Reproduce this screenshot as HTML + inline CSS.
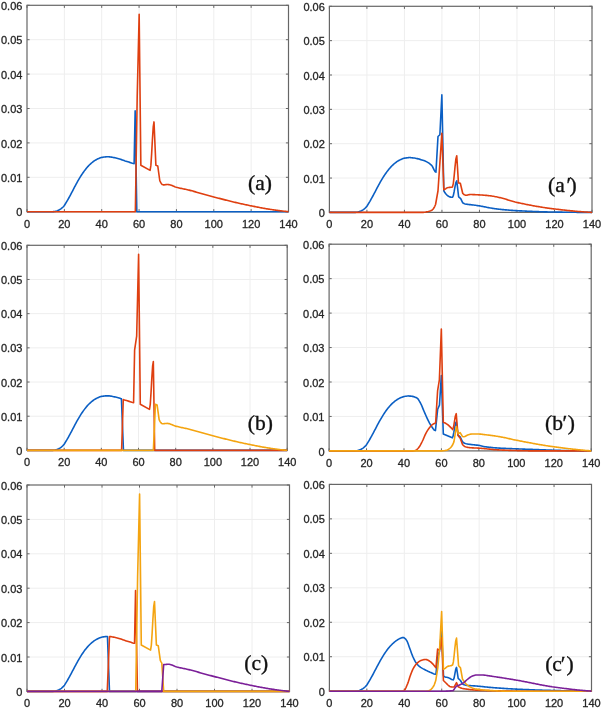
<!DOCTYPE html>
<html lang="en"><head><meta charset="utf-8"><title>Figure</title>
<style>
html,body{margin:0;padding:0;background:#fff;}
body{width:602px;height:709px;overflow:hidden;}
svg{display:block;}
svg text{font-family:"Liberation Sans",Arial,sans-serif;font-size:11px;fill:#262626;stroke:#262626;stroke-width:0.3px;}
svg text.lab{font-family:"Liberation Serif","Times New Roman",serif;font-size:21.5px;fill:#111;stroke:#111;stroke-width:0.35px;}
</style></head><body>
<svg width="602" height="709" viewBox="0 0 602 709">
<rect width="602" height="709" fill="#fff"/>
<g><path d="M64.36 5.30V211.70M101.71 5.30V211.70M139.07 5.30V211.70M176.43 5.30V211.70M213.79 5.30V211.70M251.14 5.30V211.70M27.00 177.30H288.50M27.00 142.90H288.50M27.00 108.50H288.50M27.00 74.10H288.50M27.00 39.70H288.50" stroke="#eeeeee" stroke-width="1" fill="none"/>
<path d="M27.00 211.70v-2.6M27.00 5.30v2.6M64.36 211.70v-2.6M64.36 5.30v2.6M101.71 211.70v-2.6M101.71 5.30v2.6M139.07 211.70v-2.6M139.07 5.30v2.6M176.43 211.70v-2.6M176.43 5.30v2.6M213.79 211.70v-2.6M213.79 5.30v2.6M251.14 211.70v-2.6M251.14 5.30v2.6M288.50 211.70v-2.6M288.50 5.30v2.6M27.00 211.70h2.6M288.50 211.70h-2.6M27.00 177.30h2.6M288.50 177.30h-2.6M27.00 142.90h2.6M288.50 142.90h-2.6M27.00 108.50h2.6M288.50 108.50h-2.6M27.00 74.10h2.6M288.50 74.10h-2.6M27.00 39.70h2.6M288.50 39.70h-2.6M27.00 5.30h2.6M288.50 5.30h-2.6" stroke="#666666" stroke-width="1" fill="none"/>
<rect x="27.00" y="5.30" width="261.50" height="206.40" fill="none" stroke="#666666" stroke-width="1.2"/>
<polyline points="27.00,211.70 27.93,211.70 28.87,211.70 29.80,211.70 30.74,211.70 31.67,211.70 32.60,211.70 33.54,211.70 34.47,211.70 35.41,211.70 36.34,211.70 37.27,211.70 38.21,211.70 39.14,211.70 40.08,211.70 41.01,211.70 41.94,211.70 42.88,211.70 43.81,211.70 44.74,211.70 45.68,211.70 46.61,211.70 47.55,211.70 48.48,211.70 49.41,211.70 50.35,211.70 51.28,211.70 52.22,211.70 52.96,211.67 53.71,211.59 54.46,211.48 55.20,211.36 55.95,211.18 56.70,210.94 57.45,210.64 58.19,210.32 58.94,209.97 59.69,209.57 60.43,209.12 61.18,208.60 61.98,207.98 62.77,207.26 63.56,206.44 64.36,205.51 67.16,200.86 67.91,199.57 68.65,198.24 69.40,196.90 70.15,195.53 70.89,194.14 71.64,192.72 72.39,191.28 73.14,189.86 73.88,188.43 74.63,186.99 75.38,185.57 76.12,184.18 76.87,182.82 77.62,181.47 78.37,180.16 79.11,178.88 79.86,177.64 80.61,176.42 81.35,175.24 82.10,174.10 82.85,173.00 83.60,171.93 84.34,170.89 85.09,169.90 85.84,168.95 86.58,168.03 87.33,167.16 88.08,166.33 88.83,165.54 89.57,164.78 90.32,164.07 91.07,163.40 91.85,162.74 92.64,162.09 93.42,161.49 94.21,160.92 94.99,160.41 95.77,159.94 96.56,159.50 97.34,159.09 98.13,158.71 98.91,158.38 99.71,158.07 100.50,157.77 101.29,157.52 102.09,157.35 103.02,157.20 103.96,157.06 104.89,156.94 105.82,156.85 106.76,156.79 107.69,156.76 108.61,156.79 109.52,156.85 110.44,156.96 111.35,157.09 112.27,157.26 113.18,157.44 114.10,157.63 115.01,157.84 115.93,158.04 116.84,158.24 117.76,158.46 118.67,158.72 119.59,159.00 120.50,159.31 121.42,159.63 122.34,159.96 123.25,160.29 124.17,160.62 125.08,160.94 126.00,161.24 126.93,161.53 127.86,161.81 128.80,162.09 129.73,162.37 130.67,162.65 131.53,162.94 132.39,163.25 133.26,163.51 134.12,163.61 135.15,110.91 136.83,211.70 288.50,211.70" fill="none" stroke="#0B5FC4" stroke-width="1.6" stroke-linejoin="round"/>
<polyline points="27.00,211.70 135.34,211.70 137.20,96.80 139.16,14.24 140.85,165.26 150.09,170.42 150.88,165.38 151.66,153.35 152.45,138.99 153.23,126.96 154.01,121.92 155.88,165.26 157.75,165.95 159.80,180.74 160.65,182.44 161.49,183.74 162.33,184.57 163.17,184.87 164.10,184.83 165.03,184.75 165.97,184.65 166.90,184.56 167.84,184.52 168.70,184.58 169.55,184.74 170.41,184.97 171.27,185.27 172.13,185.61 172.99,185.97 173.85,186.34 174.71,186.69 175.57,187.01 176.43,187.28 177.34,187.51 178.25,187.74 179.16,187.96 180.06,188.17 180.97,188.37 181.88,188.56 182.79,188.76 183.70,188.95 184.61,189.14 185.52,189.33 186.43,189.53 187.34,189.73 188.25,189.93 189.15,190.15 190.06,190.37 190.98,190.61 191.90,190.85 192.82,191.10 193.74,191.36 194.66,191.62 195.57,191.89 196.49,192.15 197.41,192.42 198.33,192.69 199.25,192.95 200.17,193.21 201.08,193.47 201.99,193.72 202.90,193.97 203.81,194.22 204.71,194.46 205.62,194.71 206.53,194.96 207.44,195.21 208.34,195.45 209.25,195.70 210.16,195.94 211.06,196.18 211.97,196.43 212.88,196.67 213.79,196.91 214.72,197.16 215.65,197.40 216.59,197.65 217.52,197.90 218.46,198.15 219.39,198.39 220.32,198.64 221.26,198.89 222.19,199.13 223.12,199.38 224.06,199.62 224.99,199.86 225.93,200.10 226.86,200.34 227.79,200.58 228.73,200.81 229.66,201.04 230.60,201.27 231.53,201.50 232.46,201.72 233.40,201.95 234.33,202.17 235.27,202.38 236.20,202.60 237.13,202.82 238.07,203.03 239.00,203.25 239.94,203.46 240.87,203.67 241.80,203.87 242.74,204.08 243.67,204.29 244.61,204.49 245.54,204.69 246.47,204.89 247.41,205.08 248.34,205.28 249.28,205.47 250.21,205.66 251.14,205.85 252.08,206.04 253.01,206.23 253.94,206.41 254.88,206.60 255.81,206.78 256.75,206.97 257.68,207.15 258.61,207.33 259.55,207.51 260.48,207.69 261.42,207.86 262.35,208.03 263.28,208.20 264.22,208.37 265.15,208.53 266.09,208.69 267.02,208.85 267.95,209.00 268.89,209.15 269.82,209.29 270.76,209.43 271.69,209.57 272.62,209.71 273.56,209.84 274.49,209.98 275.43,210.11 276.36,210.24 277.29,210.37 278.23,210.49 279.16,210.61 280.09,210.73 281.03,210.85 281.96,210.97 282.90,211.08 283.83,211.19 284.76,211.30 285.70,211.40 286.63,211.50 287.57,211.60 288.50,211.70" fill="none" stroke="#DF3F10" stroke-width="1.6" stroke-linejoin="round"/>
<text x="27.00" y="227.50" text-anchor="middle">0</text>
<text x="64.36" y="227.50" text-anchor="middle">20</text>
<text x="101.71" y="227.50" text-anchor="middle">40</text>
<text x="139.07" y="227.50" text-anchor="middle">60</text>
<text x="176.43" y="227.50" text-anchor="middle">80</text>
<text x="213.79" y="227.50" text-anchor="middle">100</text>
<text x="251.14" y="227.50" text-anchor="middle">120</text>
<text x="288.50" y="227.50" text-anchor="middle">140</text>
<text x="22.40" y="216.30" text-anchor="end">0</text>
<text x="22.40" y="181.90" text-anchor="end">0.01</text>
<text x="22.40" y="147.50" text-anchor="end">0.02</text>
<text x="22.40" y="113.10" text-anchor="end">0.03</text>
<text x="22.40" y="78.70" text-anchor="end">0.04</text>
<text x="22.40" y="44.30" text-anchor="end">0.05</text>
<text x="22.40" y="9.90" text-anchor="end">0.06</text>
<text class="lab" x="260.0" y="190.4" text-anchor="middle">(a)</text></g>
<g><path d="M366.91 6.30V212.40M404.43 6.30V212.40M441.94 6.30V212.40M479.46 6.30V212.40M516.97 6.30V212.40M554.49 6.30V212.40M329.40 178.05H592.00M329.40 143.70H592.00M329.40 109.35H592.00M329.40 75.00H592.00M329.40 40.65H592.00" stroke="#eeeeee" stroke-width="1" fill="none"/>
<path d="M329.40 212.40v-2.6M329.40 6.30v2.6M366.91 212.40v-2.6M366.91 6.30v2.6M404.43 212.40v-2.6M404.43 6.30v2.6M441.94 212.40v-2.6M441.94 6.30v2.6M479.46 212.40v-2.6M479.46 6.30v2.6M516.97 212.40v-2.6M516.97 6.30v2.6M554.49 212.40v-2.6M554.49 6.30v2.6M592.00 212.40v-2.6M592.00 6.30v2.6M329.40 212.40h2.6M592.00 212.40h-2.6M329.40 178.05h2.6M592.00 178.05h-2.6M329.40 143.70h2.6M592.00 143.70h-2.6M329.40 109.35h2.6M592.00 109.35h-2.6M329.40 75.00h2.6M592.00 75.00h-2.6M329.40 40.65h2.6M592.00 40.65h-2.6M329.40 6.30h2.6M592.00 6.30h-2.6" stroke="#666666" stroke-width="1" fill="none"/>
<rect x="329.40" y="6.30" width="262.60" height="206.10" fill="none" stroke="#666666" stroke-width="1.2"/>
<polyline points="329.40,212.40 330.34,212.40 331.28,212.40 332.21,212.40 333.15,212.40 334.09,212.40 335.03,212.40 335.96,212.40 336.90,212.40 337.84,212.40 338.78,212.40 339.72,212.40 340.65,212.40 341.59,212.40 342.53,212.40 343.47,212.40 344.41,212.40 345.34,212.40 346.28,212.40 347.22,212.40 348.16,212.40 349.09,212.40 350.03,212.40 350.97,212.40 351.91,212.40 352.85,212.40 353.78,212.40 354.72,212.40 355.47,212.37 356.22,212.29 356.97,212.18 357.72,212.06 358.47,211.88 359.22,211.64 359.97,211.34 360.72,211.03 361.47,210.68 362.22,210.28 362.98,209.82 363.73,209.31 364.52,208.69 365.32,207.97 366.12,207.14 366.91,206.22 369.73,201.58 370.48,200.28 371.23,198.96 371.98,197.62 372.73,196.26 373.48,194.86 374.23,193.44 374.98,192.01 375.73,190.59 376.48,189.16 377.23,187.73 377.98,186.31 378.73,184.92 379.48,183.56 380.23,182.22 380.98,180.91 381.73,179.63 382.48,178.39 383.23,177.17 383.98,175.99 384.73,174.86 385.48,173.75 386.23,172.68 386.98,171.65 387.73,170.66 388.49,169.71 389.24,168.80 389.99,167.92 390.74,167.09 391.49,166.30 392.24,165.55 392.99,164.84 393.74,164.17 394.52,163.51 395.31,162.87 396.10,162.26 396.89,161.70 397.68,161.18 398.46,160.71 399.25,160.27 400.04,159.86 400.83,159.49 401.62,159.16 402.41,158.84 403.21,158.55 404.01,158.30 404.80,158.13 405.74,157.98 406.68,157.84 407.62,157.72 408.56,157.63 409.49,157.56 410.43,157.54 410.81,157.78 411.73,157.80 412.65,157.86 413.58,157.95 414.50,158.08 415.43,158.24 416.35,158.42 417.28,158.63 418.20,158.86 419.13,159.10 420.05,159.37 420.98,159.65 421.90,159.93 422.82,160.23 423.75,160.53 424.62,160.84 425.50,161.21 426.37,161.62 427.25,162.09 428.13,162.62 429.00,163.21 429.88,163.86 430.75,164.57 431.63,165.34 432.49,166.56 433.35,168.33 434.21,170.17 435.08,171.62 435.94,172.21 438.00,136.49 439.88,134.77 441.85,94.92 443.82,190.76 444.68,192.25 445.54,193.50 446.41,194.54 447.27,195.38 448.13,196.04 449.00,196.54 449.86,196.89 450.72,197.12 451.58,197.25 452.45,197.29 453.31,195.57 454.17,191.48 455.04,186.60 455.90,182.51 456.76,180.80 458.64,196.94 460.70,198.66 462.76,202.78 463.61,203.31 464.45,203.69 465.30,203.96 466.14,204.16 466.97,204.30 467.80,204.41 468.63,204.51 469.46,204.59 470.29,204.66 471.12,204.75 471.95,204.84 472.89,204.96 473.83,205.08 474.77,205.20 475.71,205.33 476.64,205.46 477.58,205.59 478.52,205.73 479.46,205.87 480.35,206.02 481.24,206.18 482.13,206.35 483.02,206.53 483.91,206.71 484.80,206.90 485.69,207.09 486.58,207.27 487.48,207.45 488.37,207.62 489.26,207.78 490.15,207.93 491.04,208.08 491.92,208.22 492.81,208.36 493.70,208.49 494.58,208.63 495.47,208.75 496.36,208.88 497.24,209.00 498.13,209.11 499.02,209.21 499.90,209.31 500.80,209.40 501.70,209.49 502.60,209.58 503.50,209.67 504.39,209.75 505.29,209.84 506.19,209.92 507.09,209.99 507.99,210.07 508.89,210.14 509.78,210.21 510.68,210.28 511.58,210.35 512.48,210.41 513.38,210.47 514.28,210.53 515.17,210.58 516.07,210.63 516.97,210.68 517.91,210.73 518.85,210.78 519.78,210.83 520.72,210.88 521.66,210.92 522.60,210.97 523.54,211.02 524.47,211.06 525.41,211.11 526.35,211.15 527.29,211.19 528.23,211.24 529.16,211.28 530.10,211.32 531.04,211.36 531.98,211.40 532.91,211.44 533.85,211.48 534.79,211.51 535.73,211.55 536.67,211.58 537.60,211.62 538.54,211.65 539.48,211.68 540.42,211.72 541.36,211.75 542.29,211.78 543.23,211.80 544.17,211.83 545.11,211.86 546.04,211.88 546.98,211.91 547.92,211.93 548.86,211.95 549.80,211.97 550.73,211.99 551.67,212.01 552.61,212.03 553.55,212.04 554.49,212.06 555.42,212.07 556.36,212.08 557.30,212.10 558.24,212.11 559.17,212.12 560.11,212.14 561.05,212.15 561.99,212.16 562.93,212.18 563.86,212.19 564.80,212.20 565.74,212.21 566.68,212.22 567.62,212.23 568.55,212.25 569.49,212.26 570.43,212.27 571.37,212.28 572.31,212.29 573.24,212.30 574.18,212.31 575.12,212.32 576.06,212.32 576.99,212.33 577.93,212.34 578.87,212.35 579.81,212.35 580.75,212.36 581.68,212.37 582.62,212.37 583.56,212.38 584.50,212.38 585.43,212.39 586.37,212.39 587.31,212.39 588.25,212.40 589.19,212.40 590.12,212.40 591.06,212.40 592.00,212.40" fill="none" stroke="#0B5FC4" stroke-width="1.6" stroke-linejoin="round"/>
<polyline points="329.40,212.40 423.19,212.40 425.62,212.06 426.48,211.90 427.34,211.73 428.20,211.55 429.05,211.32 429.91,211.06 430.77,210.73 431.63,210.34 432.41,209.79 433.20,208.93 433.99,207.76 434.78,206.28 435.57,204.50 438.00,190.76 439.88,162.94 441.85,133.40 443.82,189.73 444.71,189.45 445.60,188.80 446.49,188.10 447.38,187.67 448.23,187.52 449.07,187.42 449.91,187.35 450.76,187.28 451.60,187.17 452.45,186.98 453.31,183.58 454.17,175.81 455.04,166.61 455.90,158.94 456.76,155.72 458.45,182.86 460.32,183.20 462.76,193.51 463.61,194.23 464.45,194.77 465.30,195.11 466.14,195.22 466.93,195.15 467.72,194.98 468.50,194.78 469.29,194.61 470.08,194.54 471.02,194.54 471.95,194.56 472.89,194.58 473.83,194.61 474.77,194.65 475.71,194.69 476.64,194.74 477.58,194.78 478.52,194.83 479.46,194.88 480.34,194.93 481.22,194.98 482.10,195.04 482.98,195.11 483.86,195.18 484.74,195.25 485.62,195.33 486.50,195.42 487.38,195.51 488.26,195.60 489.14,195.70 490.02,195.80 490.90,195.91 491.80,196.03 492.70,196.17 493.60,196.32 494.50,196.48 495.40,196.66 496.30,196.84 497.20,197.03 498.10,197.23 499.00,197.43 499.90,197.63 500.80,197.84 501.70,198.06 502.60,198.30 503.50,198.55 504.39,198.80 505.29,199.07 506.19,199.34 507.09,199.62 507.99,199.90 508.89,200.18 509.78,200.46 510.68,200.73 511.58,201.00 512.48,201.27 513.38,201.53 514.28,201.77 515.17,202.01 516.07,202.23 516.97,202.44 517.91,202.65 518.85,202.85 519.78,203.05 520.72,203.25 521.66,203.45 522.60,203.65 523.54,203.84 524.47,204.04 525.41,204.23 526.35,204.42 527.29,204.60 528.23,204.79 529.16,204.97 530.10,205.15 531.04,205.33 531.98,205.50 532.91,205.67 533.85,205.84 534.79,206.01 535.73,206.18 536.67,206.34 537.60,206.50 538.54,206.66 539.48,206.82 540.42,206.97 541.36,207.12 542.29,207.27 543.23,207.42 544.17,207.56 545.11,207.70 546.04,207.84 546.98,207.98 547.92,208.11 548.86,208.24 549.80,208.37 550.73,208.49 551.67,208.61 552.61,208.73 553.55,208.85 554.49,208.97 555.42,209.08 556.36,209.19 557.30,209.30 558.24,209.41 559.17,209.52 560.11,209.63 561.05,209.73 561.99,209.84 562.93,209.94 563.86,210.05 564.80,210.15 565.74,210.25 566.68,210.35 567.62,210.45 568.55,210.55 569.49,210.64 570.43,210.74 571.37,210.83 572.31,210.92 573.24,211.01 574.18,211.10 575.12,211.18 576.06,211.27 576.99,211.35 577.93,211.43 578.87,211.51 579.81,211.59 580.75,211.66 581.68,211.74 582.62,211.81 583.56,211.88 584.50,211.94 585.43,212.01 586.37,212.07 587.31,212.13 588.25,212.19 589.19,212.25 590.12,212.30 591.06,212.35 592.00,212.40" fill="none" stroke="#DF3F10" stroke-width="1.6" stroke-linejoin="round"/>
<text x="329.40" y="228.20" text-anchor="middle">0</text>
<text x="366.91" y="228.20" text-anchor="middle">20</text>
<text x="404.43" y="228.20" text-anchor="middle">40</text>
<text x="441.94" y="228.20" text-anchor="middle">60</text>
<text x="479.46" y="228.20" text-anchor="middle">80</text>
<text x="516.97" y="228.20" text-anchor="middle">100</text>
<text x="554.49" y="228.20" text-anchor="middle">120</text>
<text x="592.00" y="228.20" text-anchor="middle">140</text>
<text x="324.80" y="217.00" text-anchor="end">0</text>
<text x="324.80" y="182.65" text-anchor="end">0.01</text>
<text x="324.80" y="148.30" text-anchor="end">0.02</text>
<text x="324.80" y="113.95" text-anchor="end">0.03</text>
<text x="324.80" y="79.60" text-anchor="end">0.04</text>
<text x="324.80" y="45.25" text-anchor="end">0.05</text>
<text x="324.80" y="10.90" text-anchor="end">0.06</text>
<text class="lab" x="562.3" y="191.5" text-anchor="middle">(a<tspan dx="1.7">′</tspan><tspan dx="-1.7">)</tspan></text></g>
<g><path d="M64.17 245.30V450.40M101.34 245.30V450.40M138.51 245.30V450.40M175.69 245.30V450.40M212.86 245.30V450.40M250.03 245.30V450.40M27.00 416.22H287.20M27.00 382.03H287.20M27.00 347.85H287.20M27.00 313.67H287.20M27.00 279.48H287.20" stroke="#eeeeee" stroke-width="1" fill="none"/>
<path d="M27.00 450.40v-2.6M27.00 245.30v2.6M64.17 450.40v-2.6M64.17 245.30v2.6M101.34 450.40v-2.6M101.34 245.30v2.6M138.51 450.40v-2.6M138.51 245.30v2.6M175.69 450.40v-2.6M175.69 245.30v2.6M212.86 450.40v-2.6M212.86 245.30v2.6M250.03 450.40v-2.6M250.03 245.30v2.6M287.20 450.40v-2.6M287.20 245.30v2.6M27.00 450.40h2.6M287.20 450.40h-2.6M27.00 416.22h2.6M287.20 416.22h-2.6M27.00 382.03h2.6M287.20 382.03h-2.6M27.00 347.85h2.6M287.20 347.85h-2.6M27.00 313.67h2.6M287.20 313.67h-2.6M27.00 279.48h2.6M287.20 279.48h-2.6M27.00 245.30h2.6M287.20 245.30h-2.6" stroke="#666666" stroke-width="1" fill="none"/>
<rect x="27.00" y="245.30" width="260.20" height="205.10" fill="none" stroke="#666666" stroke-width="1.2"/>
<polyline points="27.00,450.40 27.93,450.40 28.86,450.40 29.79,450.40 30.72,450.40 31.65,450.40 32.58,450.40 33.51,450.40 34.43,450.40 35.36,450.40 36.29,450.40 37.22,450.40 38.15,450.40 39.08,450.40 40.01,450.40 40.94,450.40 41.87,450.40 42.80,450.40 43.73,450.40 44.66,450.40 45.59,450.40 46.52,450.40 47.44,450.40 48.37,450.40 49.30,450.40 50.23,450.40 51.16,450.40 52.09,450.40 52.83,450.37 53.58,450.29 54.32,450.18 55.06,450.06 55.81,449.89 56.55,449.64 57.29,449.35 58.04,449.03 58.78,448.69 59.52,448.29 60.27,447.83 61.01,447.32 61.80,446.71 62.59,445.99 63.38,445.17 64.17,444.25 66.96,439.63 67.70,438.34 68.45,437.03 69.19,435.69 69.93,434.33 70.68,432.95 71.42,431.54 72.16,430.11 72.91,428.69 73.65,427.27 74.39,425.85 75.14,424.44 75.88,423.05 76.62,421.70 77.37,420.36 78.11,419.06 78.85,417.79 79.60,416.55 80.34,415.34 81.08,414.17 81.83,413.04 82.57,411.94 83.31,410.88 84.06,409.85 84.80,408.87 85.55,407.92 86.29,407.01 87.03,406.14 87.78,405.31 88.52,404.53 89.26,403.78 90.01,403.07 90.75,402.41 91.53,401.74 92.31,401.11 93.09,400.50 93.87,399.94 94.65,399.43 95.43,398.96 96.21,398.52 96.99,398.12 97.77,397.75 98.55,397.42 99.34,397.10 100.13,396.81 100.92,396.57 101.71,396.39 102.64,396.24 103.57,396.10 104.50,395.98 105.43,395.89 106.36,395.83 107.29,395.81 108.20,395.83 109.11,395.90 110.02,396.00 110.93,396.14 111.84,396.30 112.75,396.48 113.67,396.67 114.58,396.87 115.49,397.08 116.40,397.28 117.31,397.50 118.22,397.75 119.13,398.03 120.04,398.34 120.95,398.66 121.42,398.82 123.46,450.40 287.20,450.40" fill="none" stroke="#0B5FC4" stroke-width="1.6" stroke-linejoin="round"/>
<polyline points="27.00,450.40 121.60,450.40 123.27,399.50 123.68,399.64 124.59,399.96 125.50,400.25 126.43,400.54 127.36,400.83 128.29,401.11 129.22,401.38 130.15,401.65 131.01,401.94 131.87,402.26 132.73,402.51 133.59,402.61 134.61,350.24 136.66,336.23 138.61,254.19 140.28,404.25 149.48,409.38 150.26,404.37 151.04,392.41 151.82,378.15 152.60,366.19 153.33,361.54 154.68,450.40 287.20,450.40" fill="none" stroke="#DF3F10" stroke-width="1.6" stroke-linejoin="round"/>
<polyline points="27.00,450.40 153.38,450.40 155.43,404.32 157.10,404.94 159.14,419.63 159.98,421.32 160.82,422.62 161.65,423.44 162.49,423.74 163.42,423.70 164.35,423.62 165.28,423.52 166.21,423.43 167.14,423.40 167.99,423.45 168.85,423.61 169.70,423.84 170.56,424.14 171.41,424.48 172.27,424.84 173.12,425.20 173.98,425.55 174.83,425.87 175.69,426.13 176.59,426.37 177.49,426.59 178.40,426.81 179.30,427.01 180.21,427.21 181.11,427.41 182.02,427.60 182.92,427.79 183.83,427.98 184.73,428.17 185.64,428.37 186.54,428.57 187.44,428.77 188.35,428.98 189.25,429.21 190.17,429.44 191.08,429.68 191.99,429.93 192.91,430.19 193.82,430.45 194.74,430.71 195.65,430.98 196.56,431.24 197.48,431.51 198.39,431.77 199.31,432.03 200.22,432.28 201.12,432.53 202.02,432.78 202.93,433.03 203.83,433.27 204.73,433.52 205.64,433.77 206.54,434.01 207.44,434.25 208.34,434.50 209.25,434.74 210.15,434.98 211.05,435.22 211.95,435.46 212.86,435.70 213.79,435.95 214.72,436.19 215.65,436.44 216.57,436.69 217.50,436.93 218.43,437.18 219.36,437.42 220.29,437.67 221.22,437.91 222.15,438.16 223.08,438.40 224.01,438.64 224.94,438.88 225.87,439.11 226.80,439.35 227.73,439.58 228.66,439.81 229.58,440.04 230.51,440.26 231.44,440.49 232.37,440.71 233.30,440.93 234.23,441.14 235.16,441.36 236.09,441.57 237.02,441.79 237.95,442.00 238.88,442.21 239.81,442.42 240.74,442.62 241.66,442.83 242.59,443.03 243.52,443.23 244.45,443.43 245.38,443.63 246.31,443.83 247.24,444.02 248.17,444.21 249.10,444.40 250.03,444.59 250.96,444.78 251.89,444.96 252.82,445.15 253.75,445.33 254.67,445.52 255.60,445.70 256.53,445.88 257.46,446.06 258.39,446.24 259.32,446.41 260.25,446.59 261.18,446.76 262.11,446.92 263.04,447.09 263.97,447.25 264.90,447.41 265.83,447.57 266.76,447.72 267.69,447.86 268.61,448.01 269.54,448.15 270.47,448.29 271.40,448.42 272.33,448.56 273.26,448.69 274.19,448.82 275.12,448.95 276.05,449.07 276.98,449.20 277.91,449.32 278.84,449.44 279.77,449.56 280.69,449.67 281.62,449.78 282.55,449.89 283.48,450.00 284.41,450.10 285.34,450.21 286.27,450.30 287.20,450.40" fill="none" stroke="#F4A410" stroke-width="1.6" stroke-linejoin="round"/>
<text x="27.00" y="466.20" text-anchor="middle">0</text>
<text x="64.17" y="466.20" text-anchor="middle">20</text>
<text x="101.34" y="466.20" text-anchor="middle">40</text>
<text x="138.51" y="466.20" text-anchor="middle">60</text>
<text x="175.69" y="466.20" text-anchor="middle">80</text>
<text x="212.86" y="466.20" text-anchor="middle">100</text>
<text x="250.03" y="466.20" text-anchor="middle">120</text>
<text x="287.20" y="466.20" text-anchor="middle">140</text>
<text x="22.40" y="455.00" text-anchor="end">0</text>
<text x="22.40" y="420.82" text-anchor="end">0.01</text>
<text x="22.40" y="386.63" text-anchor="end">0.02</text>
<text x="22.40" y="352.45" text-anchor="end">0.03</text>
<text x="22.40" y="318.27" text-anchor="end">0.04</text>
<text x="22.40" y="284.08" text-anchor="end">0.05</text>
<text x="22.40" y="249.90" text-anchor="end">0.06</text>
<text class="lab" x="260.35" y="429.6" text-anchor="middle">(b)</text></g>
<g><path d="M366.54 244.20V450.90M403.99 244.20V450.90M441.43 244.20V450.90M478.87 244.20V450.90M516.31 244.20V450.90M553.76 244.20V450.90M329.10 416.45H591.20M329.10 382.00H591.20M329.10 347.55H591.20M329.10 313.10H591.20M329.10 278.65H591.20" stroke="#eeeeee" stroke-width="1" fill="none"/>
<path d="M329.10 450.90v-2.6M329.10 244.20v2.6M366.54 450.90v-2.6M366.54 244.20v2.6M403.99 450.90v-2.6M403.99 244.20v2.6M441.43 450.90v-2.6M441.43 244.20v2.6M478.87 450.90v-2.6M478.87 244.20v2.6M516.31 450.90v-2.6M516.31 244.20v2.6M553.76 450.90v-2.6M553.76 244.20v2.6M591.20 450.90v-2.6M591.20 244.20v2.6M329.10 450.90h2.6M591.20 450.90h-2.6M329.10 416.45h2.6M591.20 416.45h-2.6M329.10 382.00h2.6M591.20 382.00h-2.6M329.10 347.55h2.6M591.20 347.55h-2.6M329.10 313.10h2.6M591.20 313.10h-2.6M329.10 278.65h2.6M591.20 278.65h-2.6M329.10 244.20h2.6M591.20 244.20h-2.6" stroke="#666666" stroke-width="1" fill="none"/>
<rect x="329.10" y="244.20" width="262.10" height="206.70" fill="none" stroke="#666666" stroke-width="1.2"/>
<polyline points="329.10,450.90 330.04,450.90 330.97,450.90 331.91,450.90 332.84,450.90 333.78,450.90 334.72,450.90 335.65,450.90 336.59,450.90 337.52,450.90 338.46,450.90 339.40,450.90 340.33,450.90 341.27,450.90 342.21,450.90 343.14,450.90 344.08,450.90 345.01,450.90 345.95,450.90 346.89,450.90 347.82,450.90 348.76,450.90 349.69,450.90 350.63,450.90 351.57,450.90 352.50,450.90 353.44,450.90 354.37,450.90 355.12,450.87 355.87,450.79 356.62,450.68 357.37,450.56 358.12,450.38 358.87,450.14 359.62,449.84 360.36,449.52 361.11,449.17 361.86,448.77 362.61,448.31 363.36,447.80 364.16,447.18 364.95,446.45 365.75,445.63 366.54,444.70 369.35,440.05 370.10,438.75 370.85,437.42 371.60,436.08 372.35,434.71 373.10,433.31 373.84,431.89 374.59,430.45 375.34,429.02 376.09,427.59 376.84,426.16 377.59,424.73 378.34,423.34 379.09,421.98 379.84,420.63 380.58,419.31 381.33,418.03 382.08,416.79 382.83,415.57 383.58,414.39 384.33,413.25 385.08,412.14 385.83,411.07 386.57,410.03 387.32,409.04 388.07,408.09 388.82,407.17 389.57,406.29 390.32,405.46 391.07,404.67 391.82,403.92 392.57,403.20 393.31,402.53 394.10,401.86 394.89,401.22 395.67,400.61 396.46,400.05 397.25,399.54 398.03,399.06 398.82,398.62 399.60,398.21 400.39,397.84 401.18,397.50 401.97,397.19 402.77,396.89 403.56,396.65 404.36,396.47 405.30,396.32 406.23,396.18 407.17,396.06 408.10,395.97 409.04,395.91 409.98,396.12 410.82,396.16 411.66,396.25 412.50,396.40 413.35,396.60 414.19,396.85 415.03,397.14 415.87,397.48 416.72,397.85 417.65,398.59 418.59,399.83 419.52,401.37 420.46,403.01 421.35,404.80 422.24,406.91 423.13,409.15 424.02,411.28 424.95,413.42 425.89,415.54 426.83,417.60 427.76,419.55 428.65,421.35 429.54,423.10 430.43,424.72 431.32,426.10 432.14,427.29 432.97,428.49 433.79,429.54 434.61,430.29 435.44,430.57 437.68,409.22 439.46,405.08 441.33,375.45 443.30,434.02 452.29,437.81 453.07,436.16 453.86,432.23 454.65,427.54 455.43,423.61 456.22,421.96 458.09,435.05 460.15,436.78 462.40,441.60 464.46,443.32 465.39,443.59 466.33,443.81 467.26,443.99 468.20,444.14 469.14,444.26 470.07,444.37 471.01,444.48 471.94,444.58 472.88,444.70 473.74,444.81 474.59,444.90 475.45,444.99 476.30,445.08 477.16,445.17 478.02,445.27 478.87,445.39 479.78,445.55 480.69,445.75 481.60,445.97 482.51,446.20 483.42,446.42 484.33,446.61 485.24,446.77 486.16,446.89 487.09,447.01 488.01,447.12 488.93,447.23 489.86,447.33 490.78,447.42 491.71,447.51 492.63,447.60 493.56,447.68 494.48,447.76 495.40,447.83 496.33,447.90 497.25,447.97 498.18,448.03 499.10,448.09 500.03,448.14 500.93,448.20 501.84,448.24 502.74,448.29 503.65,448.33 504.55,448.38 505.46,448.42 506.36,448.45 507.27,448.49 508.17,448.53 509.08,448.56 509.98,448.60 510.89,448.63 511.79,448.66 512.69,448.70 513.60,448.73 514.50,448.76 515.41,448.80 516.31,448.83 517.25,448.87 518.19,448.91 519.12,448.94 520.06,448.98 520.99,449.01 521.93,449.05 522.87,449.08 523.80,449.12 524.74,449.15 525.68,449.18 526.61,449.22 527.55,449.25 528.48,449.28 529.42,449.32 530.36,449.35 531.29,449.39 532.23,449.42 533.16,449.45 534.10,449.49 535.04,449.52 535.97,449.56 536.91,449.59 537.84,449.63 538.78,449.66 539.72,449.70 540.65,449.73 541.59,449.77 542.52,449.81 543.46,449.84 544.40,449.88 545.33,449.91 546.27,449.95 547.20,449.98 548.14,450.02 549.08,450.05 550.01,450.09 550.95,450.12 551.88,450.15 552.82,450.18 553.76,450.21 554.69,450.24 555.63,450.27 556.57,450.30 557.50,450.33 558.44,450.36 559.37,450.39 560.31,450.42 561.25,450.45 562.18,450.48 563.12,450.51 564.05,450.54 564.99,450.57 565.93,450.59 566.86,450.62 567.80,450.64 568.73,450.66 569.67,450.68 570.61,450.70 571.54,450.71 572.48,450.73 573.41,450.74 574.35,450.75 575.29,450.77 576.22,450.78 577.16,450.79 578.10,450.80 579.03,450.81 579.97,450.83 580.90,450.84 581.84,450.85 582.78,450.86 583.71,450.86 584.65,450.87 585.58,450.88 586.52,450.89 587.46,450.89 588.39,450.89 589.33,450.90 590.26,450.90 591.20,450.90" fill="none" stroke="#0B5FC4" stroke-width="1.6" stroke-linejoin="round"/>
<polyline points="329.10,450.90 412.41,450.90 415.03,450.56 415.92,450.19 416.81,449.56 417.70,448.73 418.59,447.80 419.52,446.56 420.46,444.94 421.40,443.12 422.33,441.25 423.22,439.34 424.11,437.24 425.00,435.16 425.89,433.33 426.83,431.66 427.76,430.10 428.70,428.69 429.63,427.47 430.52,426.43 431.41,425.48 432.30,424.66 433.19,424.03 435.62,423.00 437.59,390.96 439.37,379.93 441.33,328.95 443.30,422.31 444.24,422.65 445.13,423.07 446.02,423.56 446.90,424.11 447.79,424.72 448.58,425.34 449.37,426.07 450.15,426.86 450.94,427.68 451.73,428.51 452.66,429.54 453.55,427.06 454.44,421.62 455.33,416.17 456.22,413.69 458.00,435.40 460.24,438.15 462.40,444.35 463.15,445.24 463.89,445.93 464.64,446.44 465.39,446.77 466.25,447.01 467.10,447.21 467.96,447.38 468.82,447.52 469.67,447.64 470.53,447.73 471.38,447.80 472.32,447.86 473.25,447.91 474.19,447.95 475.13,447.99 476.06,448.02 477.00,448.05 477.94,448.09 478.87,448.14 479.81,448.20 480.74,448.27 481.68,448.35 482.62,448.43 483.55,448.52 484.49,448.62 485.42,448.71 486.36,448.81 487.30,448.92 488.23,449.02 489.17,449.12 490.10,449.22 491.04,449.32 491.98,449.42 492.91,449.51 493.85,449.60 494.78,449.68 495.72,449.75 496.66,449.81 497.59,449.87 498.53,449.91 499.47,449.96 500.40,450.01 501.34,450.05 502.27,450.09 503.21,450.13 504.15,450.17 505.08,450.21 506.02,450.24 506.95,450.28 507.89,450.31 508.83,450.34 509.76,450.37 510.70,450.40 511.63,450.43 512.57,450.46 513.51,450.48 514.44,450.51 515.38,450.53 516.31,450.56 517.25,450.58 518.19,450.60 519.12,450.63 520.06,450.65 520.99,450.67 521.93,450.70 522.87,450.72 523.80,450.74 524.74,450.76 525.68,450.79 526.61,450.80 527.55,450.82 528.48,450.84 529.42,450.85 530.36,450.87 531.29,450.88 532.23,450.89 533.16,450.89 534.10,450.90 535.04,450.90 535.97,450.90 536.91,450.90 537.84,450.90 538.78,450.90 539.72,450.90 540.65,450.90 541.59,450.90 542.52,450.90 543.46,450.90 544.40,450.90 545.33,450.90 546.27,450.90 547.20,450.90 548.14,450.90 549.08,450.90 550.01,450.90 550.95,450.90 551.88,450.90 552.82,450.90 553.76,450.90 554.69,450.90 555.63,450.90 556.57,450.90 557.50,450.90 558.44,450.90 559.37,450.90 560.31,450.90 561.25,450.90 562.18,450.90 563.12,450.90 564.05,450.90 564.99,450.90 565.93,450.90 566.86,450.90 567.80,450.90 568.73,450.90 569.67,450.90 570.61,450.90 571.54,450.90 572.48,450.90 573.41,450.90 574.35,450.90 575.29,450.90 576.22,450.90 577.16,450.90 578.10,450.90 579.03,450.90 579.97,450.90 580.90,450.90 581.84,450.90 582.78,450.90 583.71,450.90 584.65,450.90 585.58,450.90 586.52,450.90 587.46,450.90 588.39,450.90 589.33,450.90 590.26,450.90 591.20,450.90" fill="none" stroke="#DF3F10" stroke-width="1.6" stroke-linejoin="round"/>
<polyline points="329.10,450.90 441.24,450.90 442.12,450.88 442.99,450.81 443.86,450.70 444.74,450.56 445.61,450.40 446.48,450.21 447.34,449.94 448.21,449.51 449.07,448.94 449.93,448.25 450.79,447.45 451.58,446.54 452.38,445.30 453.18,443.67 453.97,441.60 456.41,426.44 458.09,433.67 460.15,432.64 462.40,436.43 463.89,436.78 464.83,436.56 465.77,436.07 466.70,435.49 467.64,435.05 468.46,434.77 469.29,434.50 470.11,434.25 470.93,434.08 471.76,434.02 472.67,434.02 473.58,434.02 474.49,434.02 475.39,434.02 476.30,434.02 477.21,434.02 478.12,434.02 479.01,434.04 479.90,434.09 480.79,434.17 481.68,434.26 482.57,434.37 483.46,434.49 484.35,434.60 485.24,434.71 486.16,434.81 487.09,434.92 488.01,435.03 488.93,435.15 489.86,435.27 490.78,435.39 491.71,435.51 492.63,435.64 493.56,435.77 494.48,435.90 495.40,436.04 496.33,436.18 497.25,436.32 498.18,436.47 499.10,436.62 500.03,436.78 500.93,436.93 501.84,437.10 502.74,437.27 503.65,437.46 504.55,437.65 505.46,437.84 506.36,438.04 507.27,438.24 508.17,438.44 509.08,438.65 509.98,438.86 510.89,439.06 511.79,439.27 512.69,439.47 513.60,439.66 514.50,439.86 515.41,440.04 516.31,440.22 517.25,440.40 518.19,440.58 519.12,440.76 520.06,440.95 520.99,441.13 521.93,441.31 522.87,441.49 523.80,441.67 524.74,441.85 525.68,442.03 526.61,442.20 527.55,442.38 528.48,442.56 529.42,442.73 530.36,442.91 531.29,443.08 532.23,443.26 533.16,443.43 534.10,443.60 535.04,443.77 535.97,443.93 536.91,444.10 537.84,444.27 538.78,444.43 539.72,444.59 540.65,444.75 541.59,444.91 542.52,445.06 543.46,445.22 544.40,445.37 545.33,445.52 546.27,445.67 547.20,445.81 548.14,445.96 549.08,446.10 550.01,446.24 550.95,446.37 551.88,446.51 552.82,446.64 553.76,446.77 554.69,446.89 555.63,447.02 556.57,447.14 557.50,447.27 558.44,447.39 559.37,447.51 560.31,447.63 561.25,447.75 562.18,447.87 563.12,447.99 564.05,448.10 564.99,448.22 565.93,448.33 566.86,448.45 567.80,448.56 568.73,448.67 569.67,448.78 570.61,448.89 571.54,448.99 572.48,449.10 573.41,449.20 574.35,449.31 575.29,449.41 576.22,449.51 577.16,449.61 578.10,449.71 579.03,449.80 579.97,449.90 580.90,449.99 581.84,450.08 582.78,450.17 583.71,450.26 584.65,450.34 585.58,450.43 586.52,450.51 587.46,450.59 588.39,450.67 589.33,450.75 590.26,450.83 591.20,450.90" fill="none" stroke="#F4A410" stroke-width="1.6" stroke-linejoin="round"/>
<text x="329.10" y="466.70" text-anchor="middle">0</text>
<text x="366.54" y="466.70" text-anchor="middle">20</text>
<text x="403.99" y="466.70" text-anchor="middle">40</text>
<text x="441.43" y="466.70" text-anchor="middle">60</text>
<text x="478.87" y="466.70" text-anchor="middle">80</text>
<text x="516.31" y="466.70" text-anchor="middle">100</text>
<text x="553.76" y="466.70" text-anchor="middle">120</text>
<text x="591.20" y="466.70" text-anchor="middle">140</text>
<text x="324.50" y="455.50" text-anchor="end">0</text>
<text x="324.50" y="421.05" text-anchor="end">0.01</text>
<text x="324.50" y="386.60" text-anchor="end">0.02</text>
<text x="324.50" y="352.15" text-anchor="end">0.03</text>
<text x="324.50" y="317.70" text-anchor="end">0.04</text>
<text x="324.50" y="283.25" text-anchor="end">0.05</text>
<text x="324.50" y="248.80" text-anchor="end">0.06</text>
<text class="lab" x="560.0" y="430.2" text-anchor="middle">(b<tspan dx="-0.6">′</tspan><tspan dx="0.6">)</tspan></text></g>
<g><path d="M64.50 485.00V691.40M102.00 485.00V691.40M139.50 485.00V691.40M177.00 485.00V691.40M214.50 485.00V691.40M252.00 485.00V691.40M27.00 657.00H289.50M27.00 622.60H289.50M27.00 588.20H289.50M27.00 553.80H289.50M27.00 519.40H289.50" stroke="#eeeeee" stroke-width="1" fill="none"/>
<path d="M27.00 691.40v-2.6M27.00 485.00v2.6M64.50 691.40v-2.6M64.50 485.00v2.6M102.00 691.40v-2.6M102.00 485.00v2.6M139.50 691.40v-2.6M139.50 485.00v2.6M177.00 691.40v-2.6M177.00 485.00v2.6M214.50 691.40v-2.6M214.50 485.00v2.6M252.00 691.40v-2.6M252.00 485.00v2.6M289.50 691.40v-2.6M289.50 485.00v2.6M27.00 691.40h2.6M289.50 691.40h-2.6M27.00 657.00h2.6M289.50 657.00h-2.6M27.00 622.60h2.6M289.50 622.60h-2.6M27.00 588.20h2.6M289.50 588.20h-2.6M27.00 553.80h2.6M289.50 553.80h-2.6M27.00 519.40h2.6M289.50 519.40h-2.6M27.00 485.00h2.6M289.50 485.00h-2.6" stroke="#666666" stroke-width="1" fill="none"/>
<rect x="27.00" y="485.00" width="262.50" height="206.40" fill="none" stroke="#666666" stroke-width="1.2"/>
<polyline points="27.00,691.40 27.94,691.40 28.88,691.40 29.81,691.40 30.75,691.40 31.69,691.40 32.62,691.40 33.56,691.40 34.50,691.40 35.44,691.40 36.38,691.40 37.31,691.40 38.25,691.40 39.19,691.40 40.12,691.40 41.06,691.40 42.00,691.40 42.94,691.40 43.88,691.40 44.81,691.40 45.75,691.40 46.69,691.40 47.62,691.40 48.56,691.40 49.50,691.40 50.44,691.40 51.38,691.40 52.31,691.40 53.06,691.37 53.81,691.29 54.56,691.18 55.31,691.06 56.06,690.88 56.81,690.64 57.56,690.34 58.31,690.02 59.06,689.67 59.81,689.27 60.56,688.82 61.31,688.30 62.11,687.68 62.91,686.96 63.70,686.14 64.50,685.21 67.31,680.56 68.06,679.27 68.81,677.94 69.56,676.60 70.31,675.23 71.06,673.84 71.81,672.42 72.56,670.98 73.31,669.56 74.06,668.13 74.81,666.69 75.56,665.27 76.31,663.88 77.06,662.52 77.81,661.17 78.56,659.86 79.31,658.58 80.06,657.34 80.81,656.12 81.56,654.94 82.31,653.80 83.06,652.70 83.81,651.63 84.56,650.59 85.31,649.60 86.06,648.65 86.81,647.73 87.56,646.86 88.31,646.03 89.06,645.24 89.81,644.48 90.56,643.77 91.31,643.10 92.10,642.44 92.89,641.79 93.67,641.19 94.46,640.62 95.25,640.11 96.04,639.64 96.83,639.20 97.61,638.79 98.40,638.41 99.19,638.08 99.98,637.77 100.78,637.47 101.58,637.22 102.38,637.05 103.31,636.90 104.25,636.76 105.19,636.64 106.12,636.55 107.06,636.49 107.44,636.48 109.50,691.40 289.50,691.40" fill="none" stroke="#0B5FC4" stroke-width="1.6" stroke-linejoin="round"/>
<polyline points="27.00,691.40 107.25,691.40 109.50,636.53 109.84,636.55 110.76,636.66 111.68,636.79 112.59,636.96 113.51,637.14 114.43,637.33 115.35,637.54 116.27,637.74 117.19,637.94 118.11,638.16 119.02,638.42 119.94,638.70 120.86,639.01 121.78,639.33 122.70,639.66 123.62,639.99 124.54,640.32 125.46,640.64 126.38,640.94 127.31,641.23 128.25,641.51 129.19,641.79 130.12,642.07 131.06,642.35 131.93,642.64 132.80,642.95 133.66,643.21 134.53,643.31 135.56,590.61 137.44,691.40 289.50,691.40" fill="none" stroke="#DF3F10" stroke-width="1.6" stroke-linejoin="round"/>
<polyline points="27.00,691.40 135.75,691.40 137.62,576.50 139.59,493.94 141.28,644.96 150.56,650.12 151.35,645.08 152.14,633.05 152.93,618.69 153.71,606.66 154.50,601.62 156.38,644.96 158.25,645.65 160.31,660.44 161.16,662.14 161.81,663.15 163.69,691.40 289.50,691.40" fill="none" stroke="#F4A410" stroke-width="1.6" stroke-linejoin="round"/>
<polyline points="27.00,691.40 161.81,691.40 163.69,664.57 164.62,664.53 165.56,664.45 166.50,664.35 167.44,664.26 168.38,664.22 169.24,664.28 170.10,664.44 170.96,664.67 171.83,664.97 172.69,665.31 173.55,665.67 174.41,666.04 175.28,666.39 176.14,666.71 177.00,666.98 177.91,667.21 178.82,667.44 179.74,667.66 180.65,667.87 181.56,668.07 182.47,668.26 183.39,668.46 184.30,668.65 185.21,668.84 186.12,669.03 187.04,669.23 187.95,669.43 188.86,669.63 189.78,669.85 190.69,670.07 191.61,670.31 192.53,670.55 193.45,670.80 194.38,671.06 195.30,671.32 196.22,671.59 197.14,671.85 198.06,672.12 198.98,672.39 199.91,672.65 200.83,672.91 201.75,673.17 202.66,673.42 203.57,673.67 204.48,673.92 205.39,674.16 206.30,674.41 207.21,674.66 208.12,674.91 209.04,675.15 209.95,675.40 210.86,675.64 211.77,675.88 212.68,676.13 213.59,676.37 214.50,676.61 215.44,676.86 216.38,677.10 217.31,677.35 218.25,677.60 219.19,677.85 220.12,678.09 221.06,678.34 222.00,678.59 222.94,678.83 223.88,679.08 224.81,679.32 225.75,679.56 226.69,679.80 227.62,680.04 228.56,680.28 229.50,680.51 230.44,680.74 231.38,680.97 232.31,681.20 233.25,681.42 234.19,681.65 235.12,681.87 236.06,682.08 237.00,682.30 237.94,682.52 238.88,682.73 239.81,682.95 240.75,683.16 241.69,683.37 242.62,683.57 243.56,683.78 244.50,683.99 245.44,684.19 246.38,684.39 247.31,684.59 248.25,684.78 249.19,684.98 250.12,685.17 251.06,685.36 252.00,685.55 252.94,685.74 253.88,685.93 254.81,686.11 255.75,686.30 256.69,686.48 257.62,686.67 258.56,686.85 259.50,687.03 260.44,687.21 261.38,687.39 262.31,687.56 263.25,687.73 264.19,687.90 265.12,688.07 266.06,688.23 267.00,688.39 267.94,688.55 268.88,688.70 269.81,688.85 270.75,688.99 271.69,689.13 272.62,689.27 273.56,689.41 274.50,689.54 275.44,689.68 276.38,689.81 277.31,689.94 278.25,690.07 279.19,690.19 280.12,690.31 281.06,690.43 282.00,690.55 282.94,690.67 283.88,690.78 284.81,690.89 285.75,691.00 286.69,691.10 287.62,691.20 288.56,691.30 289.50,691.40" fill="none" stroke="#7B1F98" stroke-width="1.6" stroke-linejoin="round"/>
<text x="27.00" y="707.20" text-anchor="middle">0</text>
<text x="64.50" y="707.20" text-anchor="middle">20</text>
<text x="102.00" y="707.20" text-anchor="middle">40</text>
<text x="139.50" y="707.20" text-anchor="middle">60</text>
<text x="177.00" y="707.20" text-anchor="middle">80</text>
<text x="214.50" y="707.20" text-anchor="middle">100</text>
<text x="252.00" y="707.20" text-anchor="middle">120</text>
<text x="289.50" y="707.20" text-anchor="middle">140</text>
<text x="22.40" y="696.00" text-anchor="end">0</text>
<text x="22.40" y="661.60" text-anchor="end">0.01</text>
<text x="22.40" y="627.20" text-anchor="end">0.02</text>
<text x="22.40" y="592.80" text-anchor="end">0.03</text>
<text x="22.40" y="558.40" text-anchor="end">0.04</text>
<text x="22.40" y="524.00" text-anchor="end">0.05</text>
<text x="22.40" y="489.60" text-anchor="end">0.06</text>
<text class="lab" x="256.2" y="670.0" text-anchor="middle">(c)</text></g>
<g><path d="M366.84 484.40V691.20M404.29 484.40V691.20M441.73 484.40V691.20M479.17 484.40V691.20M516.61 484.40V691.20M554.06 484.40V691.20M329.40 656.73H591.50M329.40 622.27H591.50M329.40 587.80H591.50M329.40 553.33H591.50M329.40 518.87H591.50" stroke="#eeeeee" stroke-width="1" fill="none"/>
<path d="M329.40 691.20v-2.6M329.40 484.40v2.6M366.84 691.20v-2.6M366.84 484.40v2.6M404.29 691.20v-2.6M404.29 484.40v2.6M441.73 691.20v-2.6M441.73 484.40v2.6M479.17 691.20v-2.6M479.17 484.40v2.6M516.61 691.20v-2.6M516.61 484.40v2.6M554.06 691.20v-2.6M554.06 484.40v2.6M591.50 691.20v-2.6M591.50 484.40v2.6M329.40 691.20h2.6M591.50 691.20h-2.6M329.40 656.73h2.6M591.50 656.73h-2.6M329.40 622.27h2.6M591.50 622.27h-2.6M329.40 587.80h2.6M591.50 587.80h-2.6M329.40 553.33h2.6M591.50 553.33h-2.6M329.40 518.87h2.6M591.50 518.87h-2.6M329.40 484.40h2.6M591.50 484.40h-2.6" stroke="#666666" stroke-width="1" fill="none"/>
<rect x="329.40" y="484.40" width="262.10" height="206.80" fill="none" stroke="#666666" stroke-width="1.2"/>
<polyline points="329.40,691.20 330.34,691.20 331.27,691.20 332.21,691.20 333.14,691.20 334.08,691.20 335.02,691.20 335.95,691.20 336.89,691.20 337.82,691.20 338.76,691.20 339.70,691.20 340.63,691.20 341.57,691.20 342.50,691.20 343.44,691.20 344.38,691.20 345.31,691.20 346.25,691.20 347.19,691.20 348.12,691.20 349.06,691.20 349.99,691.20 350.93,691.20 351.87,691.20 352.80,691.20 353.74,691.20 354.67,691.20 355.42,691.17 356.17,691.09 356.92,690.98 357.67,690.86 358.42,690.68 359.17,690.44 359.92,690.14 360.66,689.82 361.41,689.47 362.16,689.07 362.91,688.61 363.66,688.10 364.46,687.47 365.25,686.75 366.05,685.93 366.84,685.00 369.65,680.34 370.40,679.04 371.15,677.72 371.90,676.37 372.65,675.00 373.40,673.60 374.14,672.18 374.89,670.74 375.64,669.31 376.39,667.88 377.14,666.45 377.89,665.02 378.64,663.63 379.39,662.26 380.14,660.92 380.88,659.60 381.63,658.32 382.38,657.07 383.13,655.85 383.88,654.67 384.63,653.53 385.38,652.42 386.13,651.35 386.87,650.31 387.62,649.32 388.37,648.37 389.12,647.45 389.87,646.57 390.62,645.74 391.37,644.95 392.12,644.19 392.87,643.48 393.61,642.81 394.40,642.14 395.19,641.50 395.97,640.89 396.76,640.32 397.55,639.81 398.33,639.34 399.12,638.89 399.90,638.48 400.54,638.22 402.41,637.60 403.91,637.67 405.41,638.81 406.91,640.88 407.66,642.48 408.40,644.51 409.15,646.70 409.90,648.81 410.65,650.84 411.40,652.92 412.15,654.92 412.90,656.73 413.65,658.40 414.40,659.99 415.14,661.41 415.89,662.59 416.68,663.63 417.47,664.55 418.25,665.37 419.04,666.09 419.82,666.73 420.68,667.34 421.54,667.90 422.39,668.40 423.25,668.87 424.10,669.31 424.96,669.74 425.82,670.18 426.67,670.61 427.53,671.03 428.38,671.45 429.24,671.85 430.09,672.23 430.95,672.59 431.81,672.93 432.63,673.28 433.45,673.65 434.28,673.98 435.10,674.22 435.92,674.31 437.80,656.39 439.48,651.22 441.63,630.19 443.51,676.03 444.33,676.58 445.16,676.93 445.99,677.16 446.81,677.33 447.64,677.50 448.47,677.76 449.28,678.13 450.09,678.57 450.90,679.02 451.71,679.43 452.52,679.72 453.34,679.83 454.13,677.89 454.93,673.62 455.72,669.36 456.52,667.42 458.20,678.45 460.45,680.52 462.51,683.96 463.37,684.41 464.23,684.76 465.09,685.02 465.95,685.21 466.82,685.34 467.70,685.44 468.59,685.53 469.47,685.60 470.36,685.66 471.24,685.71 472.13,685.76 473.01,685.81 473.90,685.85 474.78,685.91 475.67,685.96 476.55,686.03 477.46,686.11 478.37,686.19 479.28,686.28 480.19,686.38 481.11,686.47 482.02,686.57 482.93,686.67 483.84,686.77 484.75,686.87 485.66,686.97 486.57,687.07 487.48,687.16 488.39,687.25 489.31,687.33 490.22,687.41 491.13,687.48 492.04,687.55 492.95,687.63 493.86,687.70 494.77,687.77 495.68,687.84 496.59,687.90 497.50,687.97 498.41,688.04 499.32,688.10 500.23,688.16 501.14,688.23 502.05,688.29 502.96,688.35 503.87,688.41 504.78,688.47 505.69,688.53 506.60,688.58 507.51,688.64 508.42,688.69 509.33,688.75 510.24,688.80 511.15,688.85 512.06,688.90 512.97,688.95 513.88,689.00 514.79,689.04 515.70,689.09 516.61,689.13 517.55,689.18 518.49,689.22 519.42,689.26 520.36,689.31 521.29,689.35 522.23,689.39 523.17,689.43 524.10,689.48 525.04,689.52 525.98,689.56 526.91,689.60 527.85,689.64 528.78,689.67 529.72,689.71 530.66,689.75 531.59,689.79 532.53,689.82 533.46,689.86 534.40,689.90 535.34,689.93 536.27,689.96 537.21,690.00 538.14,690.03 539.08,690.07 540.02,690.10 540.95,690.13 541.89,690.16 542.82,690.19 543.76,690.22 544.70,690.25 545.63,690.28 546.57,690.31 547.50,690.33 548.44,690.36 549.38,690.39 550.31,690.41 551.25,690.44 552.18,690.46 553.12,690.49 554.06,690.51 554.99,690.53 555.93,690.56 556.87,690.58 557.80,690.60 558.74,690.62 559.67,690.65 560.61,690.67 561.55,690.69 562.48,690.71 563.42,690.73 564.35,690.75 565.29,690.77 566.23,690.79 567.16,690.81 568.10,690.83 569.03,690.85 569.97,690.87 570.91,690.89 571.84,690.91 572.78,690.93 573.71,690.94 574.65,690.96 575.59,690.98 576.52,691.00 577.46,691.01 578.39,691.03 579.33,691.04 580.27,691.06 581.20,691.07 582.14,691.09 583.08,691.10 584.01,691.11 584.95,691.13 585.88,691.14 586.82,691.15 587.76,691.16 588.69,691.17 589.63,691.18 590.56,691.19 591.50,691.20" fill="none" stroke="#0B5FC4" stroke-width="1.6" stroke-linejoin="round"/>
<polyline points="329.40,691.20 401.48,691.20 403.72,690.86 404.51,690.26 405.30,689.03 406.08,687.37 406.87,685.50 407.66,683.62 408.40,681.61 409.15,679.25 409.90,676.83 410.65,674.66 411.40,672.71 412.15,670.85 412.90,669.17 413.65,667.76 414.47,666.46 415.29,665.29 416.12,664.25 416.94,663.35 417.77,662.59 418.55,661.96 419.34,661.38 420.12,660.87 420.91,660.46 421.70,660.18 422.48,659.97 423.27,659.78 424.06,659.63 424.84,659.53 425.63,659.49 426.47,659.59 427.31,659.87 428.16,660.28 429.00,660.78 429.84,661.34 430.68,661.90 433.49,664.66 435.92,667.76 437.61,649.15 438.73,649.84 439.86,649.15 441.63,637.78 443.41,680.52 446.22,683.27 447.08,684.10 447.94,684.97 448.81,685.77 449.67,686.39 450.53,686.72 451.42,686.86 452.31,686.97 453.20,687.04 454.08,687.06 456.52,682.58 458.20,686.72 461.01,688.10 461.84,688.31 462.67,688.49 463.50,688.65 464.33,688.78 465.16,688.91 465.99,689.02 466.82,689.13 467.70,689.25 468.59,689.37 469.47,689.48 470.36,689.59 471.24,689.70 472.13,689.80 473.01,689.89 473.90,689.97 474.78,690.05 475.67,690.11 476.55,690.17 477.48,690.21 478.41,690.26 479.33,690.30 480.26,690.34 481.19,690.38 482.12,690.42 483.05,690.45 483.97,690.49 484.90,690.52 485.83,690.55 486.76,690.58 487.69,690.60 488.61,690.63 489.54,690.65 490.47,690.68 491.40,690.70 492.33,690.73 493.25,690.75 494.18,690.77 495.11,690.79 496.04,690.81 496.96,690.83 497.89,690.86 498.83,690.88 499.76,690.90 500.70,690.92 501.64,690.95 502.57,690.97 503.51,690.99 504.45,691.02 505.38,691.04 506.32,691.06 507.25,691.08 508.19,691.10 509.13,691.12 510.06,691.14 511.00,691.15 511.93,691.17 512.87,691.18 513.81,691.19 514.74,691.19 515.68,691.20 516.61,691.20 517.55,691.20 518.49,691.20 519.42,691.20 520.36,691.20 521.29,691.20 522.23,691.20 523.17,691.20 524.10,691.20 525.04,691.20 525.98,691.20 526.91,691.20 527.85,691.20 528.78,691.20 529.72,691.20 530.66,691.20 531.59,691.20 532.53,691.20 533.46,691.20 534.40,691.20 535.34,691.20 536.27,691.20 537.21,691.20 538.14,691.20 539.08,691.20 540.02,691.20 540.95,691.20 541.89,691.20 542.82,691.20 543.76,691.20 544.70,691.20 545.63,691.20 546.57,691.20 547.50,691.20 548.44,691.20 549.38,691.20 550.31,691.20 551.25,691.20 552.18,691.20 553.12,691.20 554.06,691.20 554.99,691.20 555.93,691.20 556.87,691.20 557.80,691.20 558.74,691.20 559.67,691.20 560.61,691.20 561.55,691.20 562.48,691.20 563.42,691.20 564.35,691.20 565.29,691.20 566.23,691.20 567.16,691.20 568.10,691.20 569.03,691.20 569.97,691.20 570.91,691.20 571.84,691.20 572.78,691.20 573.71,691.20 574.65,691.20 575.59,691.20 576.52,691.20 577.46,691.20 578.39,691.20 579.33,691.20 580.27,691.20 581.20,691.20 582.14,691.20 583.08,691.20 584.01,691.20 584.95,691.20 585.88,691.20 586.82,691.20 587.76,691.20 588.69,691.20 589.63,691.20 590.56,691.20 591.50,691.20" fill="none" stroke="#DF3F10" stroke-width="1.6" stroke-linejoin="round"/>
<polyline points="329.40,691.20 425.82,691.20 428.62,690.86 429.45,690.55 430.27,690.02 431.09,689.29 431.92,688.40 432.74,687.41 433.49,686.29 434.24,684.78 434.99,682.87 435.74,680.52 437.80,667.76 439.67,647.77 441.63,611.58 443.41,669.14 444.27,668.91 445.14,668.33 446.00,667.60 446.86,666.89 447.72,666.38 448.53,666.12 449.34,665.94 450.15,665.80 450.96,665.63 451.78,665.38 452.59,665.01 453.37,661.93 454.16,655.22 454.95,647.37 455.73,640.85 456.52,638.12 458.58,665.69 460.45,667.76 462.51,679.14 465.32,683.27 466.18,684.15 467.04,684.94 467.90,685.63 468.76,686.23 469.62,686.72 470.49,687.14 471.36,687.53 472.22,687.89 473.09,688.22 473.95,688.50 474.82,688.76 475.68,688.97 476.55,689.13 477.46,689.28 478.37,689.41 479.28,689.54 480.19,689.66 481.11,689.77 482.02,689.87 482.93,689.96 483.84,690.05 484.75,690.13 485.66,690.20 486.57,690.27 487.48,690.34 488.39,690.40 489.31,690.46 490.22,690.51 491.11,690.56 492.01,690.62 492.91,690.67 493.80,690.72 494.70,690.77 495.60,690.82 496.49,690.87 497.39,690.92 498.29,690.96 499.18,691.00 500.08,691.04 500.98,691.07 501.87,691.11 502.77,691.13 503.67,691.16 504.56,691.17 505.46,691.19 506.36,691.20 507.25,691.20 508.19,691.20 509.13,691.20 510.06,691.20 511.00,691.20 511.93,691.20 512.87,691.20 513.81,691.20 514.74,691.20 515.68,691.20 516.61,691.20 517.55,691.20 518.49,691.20 519.42,691.20 520.36,691.20 521.29,691.20 522.23,691.20 523.17,691.20 524.10,691.20 525.04,691.20 525.98,691.20 526.91,691.20 527.85,691.20 528.78,691.20 529.72,691.20 530.66,691.20 531.59,691.20 532.53,691.20 533.46,691.20 534.40,691.20 535.34,691.20 536.27,691.20 537.21,691.20 538.14,691.20 539.08,691.20 540.02,691.20 540.95,691.20 541.89,691.20 542.82,691.20 543.76,691.20 544.70,691.20 545.63,691.20 546.57,691.20 547.50,691.20 548.44,691.20 549.38,691.20 550.31,691.20 551.25,691.20 552.18,691.20 553.12,691.20 554.06,691.20 554.99,691.20 555.93,691.20 556.87,691.20 557.80,691.20 558.74,691.20 559.67,691.20 560.61,691.20 561.55,691.20 562.48,691.20 563.42,691.20 564.35,691.20 565.29,691.20 566.23,691.20 567.16,691.20 568.10,691.20 569.03,691.20 569.97,691.20 570.91,691.20 571.84,691.20 572.78,691.20 573.71,691.20 574.65,691.20 575.59,691.20 576.52,691.20 577.46,691.20 578.39,691.20 579.33,691.20 580.27,691.20 581.20,691.20 582.14,691.20 583.08,691.20 584.01,691.20 584.95,691.20 585.88,691.20 586.82,691.20 587.76,691.20 588.69,691.20 589.63,691.20 590.56,691.20 591.50,691.20" fill="none" stroke="#F4A410" stroke-width="1.6" stroke-linejoin="round"/>
<polyline points="329.40,691.20 445.47,691.20 446.22,691.17 446.97,691.13 447.72,691.08 448.47,691.03 449.28,690.97 450.09,690.92 450.90,690.86 451.71,690.78 452.52,690.67 453.34,690.51 455.40,687.41 456.52,686.03 458.95,685.34 461.01,684.31 463.82,682.58 464.68,681.90 465.54,681.11 466.40,680.29 467.26,679.50 468.13,678.79 468.99,678.15 469.85,677.51 470.71,676.92 471.57,676.42 472.43,676.03 473.26,675.74 474.08,675.46 474.90,675.22 475.73,675.06 476.55,675.00 477.38,675.00 478.21,675.00 479.04,675.00 479.87,675.00 480.70,675.00 481.52,675.00 482.35,675.00 483.23,675.02 484.10,675.09 484.98,675.19 485.85,675.31 486.72,675.45 487.60,675.60 488.47,675.76 489.34,675.90 490.22,676.03 491.13,676.16 492.04,676.29 492.95,676.42 493.86,676.56 494.77,676.69 495.68,676.83 496.59,676.96 497.50,677.10 498.41,677.24 499.32,677.37 500.23,677.51 501.14,677.66 502.05,677.80 502.96,677.94 503.87,678.08 504.78,678.23 505.69,678.37 506.60,678.52 507.51,678.67 508.42,678.81 509.33,678.96 510.24,679.11 511.15,679.26 512.06,679.41 512.97,679.56 513.88,679.71 514.79,679.86 515.70,680.02 516.61,680.17 517.55,680.33 518.49,680.49 519.42,680.66 520.36,680.83 521.29,681.00 522.23,681.17 523.17,681.35 524.10,681.53 525.04,681.71 525.98,681.89 526.91,682.08 527.85,682.26 528.78,682.45 529.72,682.63 530.66,682.82 531.59,683.01 532.53,683.20 533.46,683.39 534.40,683.57 535.34,683.76 536.27,683.95 537.21,684.13 538.14,684.32 539.08,684.50 540.02,684.68 540.95,684.86 541.89,685.04 542.82,685.21 543.76,685.39 544.70,685.56 545.63,685.72 546.57,685.89 547.50,686.05 548.44,686.21 549.38,686.36 550.31,686.51 551.25,686.65 552.18,686.80 553.12,686.93 554.06,687.06 554.99,687.19 555.93,687.32 556.87,687.45 557.80,687.57 558.74,687.70 559.67,687.82 560.61,687.95 561.55,688.07 562.48,688.19 563.42,688.31 564.35,688.43 565.29,688.54 566.23,688.66 567.16,688.77 568.10,688.89 569.03,689.00 569.97,689.11 570.91,689.22 571.84,689.33 572.78,689.43 573.71,689.54 574.65,689.64 575.59,689.74 576.52,689.84 577.46,689.94 578.39,690.04 579.33,690.13 580.27,690.23 581.20,690.32 582.14,690.41 583.08,690.50 584.01,690.58 584.95,690.67 585.88,690.75 586.82,690.83 587.76,690.91 588.69,690.98 589.63,691.06 590.56,691.13 591.50,691.20" fill="none" stroke="#7B1F98" stroke-width="1.6" stroke-linejoin="round"/>
<text x="329.40" y="707.00" text-anchor="middle">0</text>
<text x="366.84" y="707.00" text-anchor="middle">20</text>
<text x="404.29" y="707.00" text-anchor="middle">40</text>
<text x="441.73" y="707.00" text-anchor="middle">60</text>
<text x="479.17" y="707.00" text-anchor="middle">80</text>
<text x="516.61" y="707.00" text-anchor="middle">100</text>
<text x="554.06" y="707.00" text-anchor="middle">120</text>
<text x="591.50" y="707.00" text-anchor="middle">140</text>
<text x="324.80" y="695.80" text-anchor="end">0</text>
<text x="324.80" y="661.33" text-anchor="end">0.01</text>
<text x="324.80" y="626.87" text-anchor="end">0.02</text>
<text x="324.80" y="592.40" text-anchor="end">0.03</text>
<text x="324.80" y="557.93" text-anchor="end">0.04</text>
<text x="324.80" y="523.47" text-anchor="end">0.05</text>
<text x="324.80" y="489.00" text-anchor="end">0.06</text>
<text class="lab" x="559.5" y="670.7" text-anchor="middle">(c<tspan dx="-1.1">′</tspan><tspan dx="1.1">)</tspan></text></g>
</svg>
</body></html>
